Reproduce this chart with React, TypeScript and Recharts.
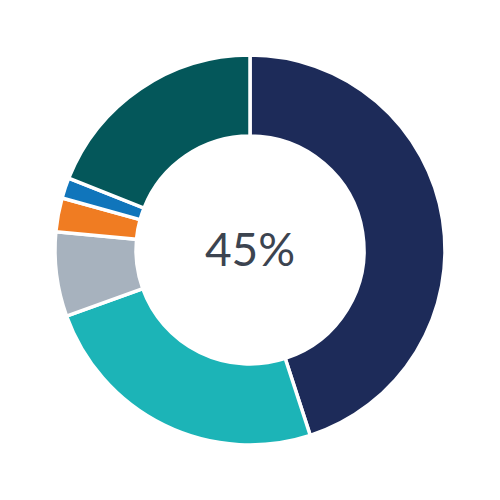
import React from "react";
import { PieChart, Pie, Cell, Label } from "recharts";

const categories = ["Navy", "Teal", "Grey", "Orange", "Blue", "Dark green"];
const values = [45, 24.5, 7, 2.8, 1.7, 19];
const colors = ["#1d2b59", "#1cb4b7", "#a7b2be", "#f07c22", "#1075bb", "#04575a"];
const centerLabel = "45%";

const data = categories.map((name, i) => ({ name, value: values[i] }));

export default function App() {
  return (
    <div style={{ marginLeft: -8, marginTop: -8, width: 500, height: 500 }}>
      <PieChart width={500} height={500} margin={{ top: 0, right: 0, bottom: 0, left: 0 }}>
        <Pie
          data={data}
          dataKey="value"
          nameKey="name"
          cx={250}
          cy={250}
          innerRadius={114}
          outerRadius={195}
          startAngle={90}
          endAngle={-270}
          stroke="#ffffff"
          strokeWidth={3.5}
          isAnimationActive={false}
        >
          {data.map((d, i) => (
            <Cell key={d.name} fill={colors[i]} />
          ))}
          <Label
            value={centerLabel}
            position="center"
            fill="#3c4450"
            style={{ fontFamily: "Lato", fontSize: 46, fontWeight: 400 }}
          />
        </Pie>
      </PieChart>
    </div>
  );
}
